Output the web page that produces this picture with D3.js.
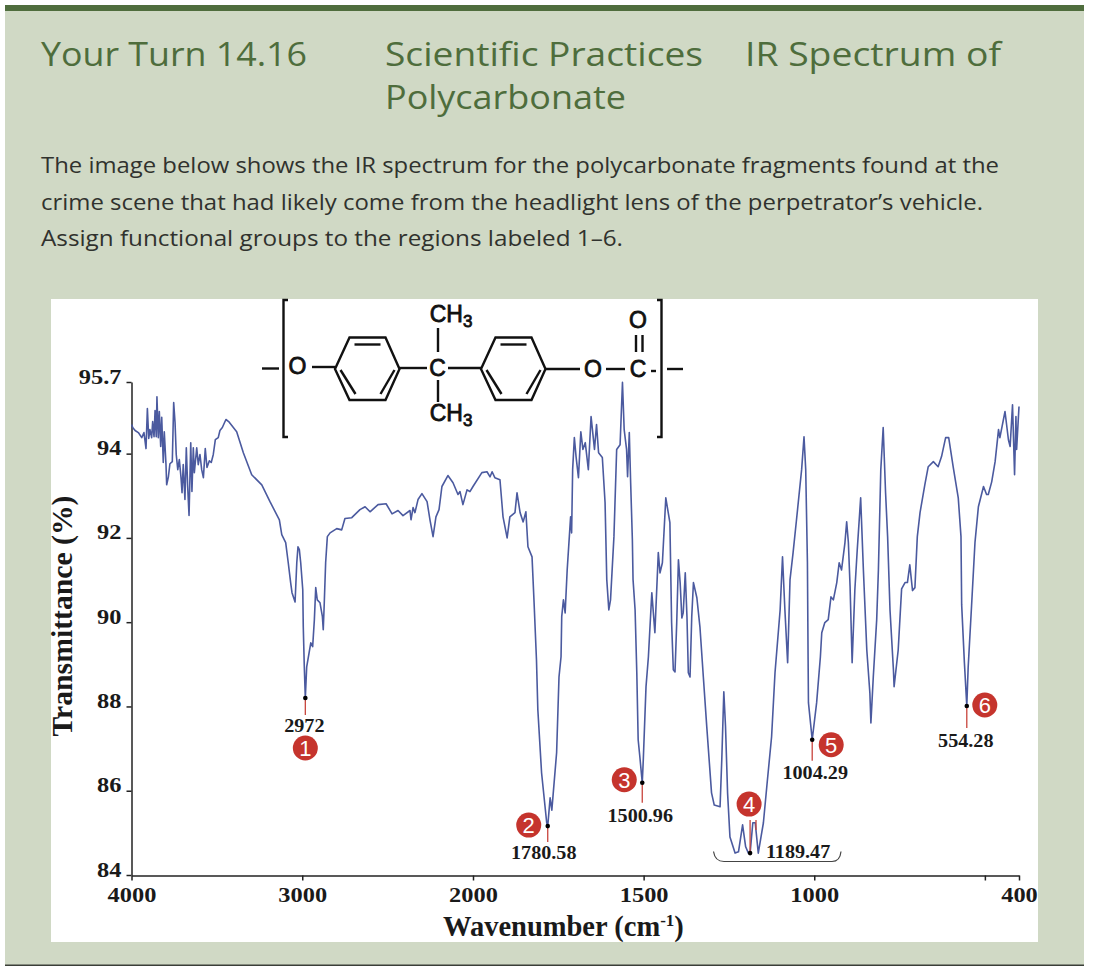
<!DOCTYPE html>
<html lang="en">
<head>
    <meta charset="UTF-8">
    <title>IR Spectrum of Polycarbonate</title>
    <script src="https://d3js.org/d3.v7.min.js"></script>
    <style>
        body { margin: 0; background: #fff; }
        svg { display: block; }
        .head { font-family: "Open Sans", sans-serif; font-size: 33px; fill: #4e6d3c; }
        .body { font-family: "Open Sans", sans-serif; font-size: 21.5px; fill: #30322e; }
        .serif { font-family: "Liberation Serif", serif; font-weight: 700; fill: #1a1a1a; }
        .chem { stroke: #111; stroke-width: 2.4; fill: none; }
        .atom { font-family: "Liberation Sans", sans-serif; font-size: 23px; fill: #111; stroke: #111; stroke-width: 0.8; text-anchor: middle; }
        .tick line, .domain { stroke: #222; stroke-width: 1.5; }
    </style>
</head>
<body>
    <svg width="1096" height="970"></svg>
    <script>
        // values
        const wavenumbers = [
            3999, 3993, 3979, 3960, 3940, 3927, 3915, 3907, 3899, 3892,
            3882, 3876, 3868, 3862, 3855, 3851, 3843, 3837, 3829, 3823,
            3814, 3808, 3798, 3794, 3784, 3775, 3761, 3753, 3745, 3738,
            3729, 3720, 3710, 3704, 3697, 3687, 3679, 3671, 3663, 3653,
            3646, 3638, 3632, 3618, 3609, 3599, 3589, 3579, 3568, 3558,
            3544, 3533, 3521, 3509, 3492, 3482, 3468, 3447, 3431, 3384,
            3345, 3296, 3237, 3189, 3134, 3120, 3097, 3082, 3068, 3060,
            3042, 3032, 3025, 3017, 3009, 2997, 2994, 2988, 2982, 2974,
            2960, 2950, 2939, 2929, 2921, 2912, 2896, 2882, 2877, 2871,
            2863, 2853, 2837, 2798, 2769, 2750, 2710, 2662, 2632, 2603,
            2556, 2509, 2474, 2439, 2410, 2369, 2363, 2351, 2340, 2322,
            2299, 2269, 2252, 2234, 2217, 2199, 2182, 2147, 2117, 2088,
            2076, 2059, 2035, 2018, 2000, 1974, 1959, 1950, 1944, 1936,
            1921, 1912, 1900, 1892, 1877, 1871, 1862, 1853, 1845, 1839,
            1827, 1821, 1814, 1810, 1799, 1784, 1781, 1774, 1769, 1755,
            1748, 1742, 1740, 1735, 1730, 1724, 1714, 1711, 1708, 1703,
            1698, 1691, 1684, 1678, 1671, 1662, 1654, 1644, 1638, 1632,
            1621, 1613, 1608, 1602, 1597, 1587, 1579, 1569, 1562, 1557,
            1550, 1547, 1542, 1538, 1533, 1531, 1525, 1520, 1516, 1511,
            1504, 1501, 1493, 1486, 1476, 1467, 1457, 1452, 1445, 1435,
            1423, 1418, 1413, 1408, 1403, 1398, 1393, 1388, 1384, 1378,
            1373, 1369, 1364, 1359, 1354, 1344, 1335, 1325, 1315, 1301,
            1293, 1276, 1271, 1265, 1260, 1254, 1247, 1232, 1222, 1210,
            1201, 1193, 1188, 1180, 1173, 1164, 1149, 1138, 1125, 1115,
            1100, 1093, 1086, 1078, 1071, 1062, 1052, 1037, 1030, 1025,
            1020, 1018, 1017, 1006, 993, 982, 978, 969, 959, 951,
            944, 934, 927, 920, 910, 905, 900, 895, 889, 881,
            874, 864, 856, 846, 837, 834, 827, 817, 812, 805,
            798, 791, 785, 778, 768, 766, 754, 744, 734, 727,
            720, 712, 705, 698, 690, 676, 666, 651, 637, 627,
            615, 606, 593, 578, 570, 568, 560, 553, 549, 539,
            529, 519, 504, 495, 490, 480, 470, 460, 456, 441,
            431, 426, 419, 413, 409, 407, 400
        ];
        const transmittance = [
            94.69, 94.62, 94.55, 94.50, 94.38, 94.50, 94.12, 95.07, 94.36, 94.57,
            94.38, 94.76, 94.40, 95.02, 94.40, 95.35, 94.38, 95.00, 94.17, 94.86,
            93.79, 94.52, 93.74, 93.26, 93.45, 93.76, 93.81, 95.21, 94.74, 93.98,
            93.62, 93.86, 93.43, 93.07, 93.74, 92.91, 94.14, 93.22, 92.53, 94.26,
            93.10, 94.14, 93.55, 94.14, 93.74, 93.98, 93.62, 93.43, 94.12, 93.67,
            93.83, 93.79, 93.98, 94.33, 94.38, 94.55, 94.62, 94.81, 94.76, 94.52,
            94.02, 93.50, 93.26, 92.86, 92.43, 92.08, 91.89, 91.41, 90.94, 90.70,
            90.48, 91.41, 91.79, 91.72, 91.41, 90.77, 89.89, 88.94, 88.20, 88.94,
            89.27, 89.51, 89.42, 90.06, 90.82, 90.53, 90.46, 90.13, 89.82, 90.46,
            91.41, 92.03, 92.12, 92.22, 92.19, 92.46, 92.48, 92.67, 92.74, 92.62,
            92.79, 92.81, 92.57, 92.65, 92.53, 92.65, 92.43, 92.72, 92.60, 92.91,
            93.05, 92.86, 92.43, 92.03, 92.50, 92.67, 93.22, 93.48, 93.31, 93.03,
            93.10, 92.79, 93.14, 93.10, 93.22, 93.55, 93.57, 93.45, 93.57, 93.43,
            93.38, 92.50, 92.00, 92.50, 92.60, 93.07, 92.60, 92.38, 92.62, 91.79,
            91.55, 90.46, 89.11, 87.92, 86.42, 85.24, 85.16, 85.83, 85.54, 86.90,
            88.70, 89.18, 90.13, 90.53, 90.22, 91.24, 92.50, 92.12, 93.62, 94.38,
            93.93, 93.43, 94.52, 94.10, 94.26, 93.62, 94.88, 94.10, 94.69, 94.02,
            93.91, 92.84, 91.01, 90.29, 90.53, 92.03, 94.10, 94.21, 95.69, 94.57,
            94.10, 93.45, 94.50, 93.31, 91.96, 91.01, 90.29, 88.80, 87.21, 86.80,
            86.19, 86.73, 88.47, 89.18, 90.70, 89.75, 91.65, 91.17, 91.41, 92.95,
            92.36, 89.99, 88.87, 88.82, 89.99, 91.48, 90.94, 90.10, 90.22, 91.17,
            90.13, 88.80, 88.70, 90.13, 90.94, 90.58, 89.89, 88.70, 87.52, 85.95,
            85.66, 85.62, 86.73, 88.35, 87.52, 85.95, 84.90, 84.52, 84.55, 85.19,
            84.67, 84.52, 84.52, 85.24, 85.24, 84.52, 85.24, 86.19, 87.28, 88.80,
            90.29, 91.55, 90.29, 89.04, 91.01, 91.65, 92.43, 93.62, 94.40, 93.62,
            91.41, 89.11, 88.09, 87.21, 88.09, 89.18, 89.75, 89.99, 90.06, 90.60,
            90.53, 90.94, 91.41, 91.24, 91.89, 92.38, 91.89, 90.84, 89.04, 90.77,
            91.72, 92.95, 91.24, 89.34, 88.32, 87.61, 88.70, 90.06, 91.24, 93.62,
            94.62, 93.07, 92.03, 90.29, 88.87, 88.47, 89.34, 90.79, 90.94, 90.94,
            91.36, 90.75, 90.82, 92.03, 92.60, 93.26, 93.69, 93.81, 93.69, 93.93,
            94.38, 94.38, 93.69, 92.95, 92.03, 90.41, 89.04, 88.01, 88.92, 90.39,
            91.89, 92.74, 93.22, 93.03, 93.03, 93.33, 93.81, 94.57, 94.38, 95.00,
            94.33, 94.17, 95.16, 93.50, 94.88, 94.10, 95.12
        ];

        const yTicks = [84, 86, 88, 90, 92, 94, 95.7];
        const xTicks = [4000, 3000, 2000, 1500, 1000, 500, 400];
        const xTickLabels = ["4000", "3000", "2000", "1500", "1000", "", "400"];

        const peakWavenumbers = [2982, 1781, 1504, 1188, 1006, 553];
        const peakTransmittance = [88.20, 85.16, 86.19, 84.52, 87.21, 88.01];
        const peakLabels = ["2972", "1780.58", "1500.96", "1189.47", "1004.29", "554.28"];
        const peakNumbers = ["1", "2", "3", "4", "5", "6"];

        // callout placement relative to each marker: red stem end, label, numbered badge
        const callouts = [
            { stem: 17, lx: -1, ly: 34, bx: 0, by: 50 },
            { stem: 16, lx: -4, ly: 33, bx: -19, by: -1 },
            { stem: 20, lx: -2, ly: 39, bx: -18, by: -3 },
            { stem: -33, lx: 48, ly: 5, bx: -1, by: -49 },
            { stem: 21, lx: 3, ly: 39, bx: 19, by: 5 },
            { stem: 22, lx: -1, ly: 41, bx: 18, by: -1 }
        ];

        const svg = d3.select("svg");

        function stretch(sel, factor) {
            sel.each(function () {
                d3.select(this).attr("textLength", this.getComputedTextLength() * factor)
                    .attr("lengthAdjust", "spacingAndGlyphs");
            });
        }

        // page panel
        svg.append("rect").attr("x", 5).attr("y", 5).attr("width", 1079).attr("height", 960).attr("fill", "#d0d9c5");
        svg.append("rect").attr("x", 5).attr("y", 5).attr("width", 1079).attr("height", 6).attr("fill", "#4f6d3d");
        svg.append("rect").attr("x", 5).attr("y", 964.5).attr("width", 1079).attr("height", 1.5).attr("fill", "#3a3f38");
        svg.append("rect").attr("x", 51).attr("y", 299).attr("width", 987).attr("height", 643).attr("fill", "#fff");

        const heading = [
            { text: "Your Turn 14.16", x: 41, y: 66, w: 266 },
            { text: "Scientific Practices", x: 385, y: 66, w: 318 },
            { text: "IR Spectrum of", x: 745, y: 66, w: 256 },
            { text: "Polycarbonate", x: 385, y: 109, w: 241 }
        ];
        svg.selectAll(".head").data(heading).enter().append("text")
            .attr("class", "head")
            .attr("x", d => d.x).attr("y", d => d.y)
            .attr("textLength", d => d.w)
            .attr("lengthAdjust", "spacingAndGlyphs")
            .text(d => d.text);

        const bodyLines = [
            { text: "The image below shows the IR spectrum for the polycarbonate fragments found at the", y: 173, w: 958 },
            { text: "crime scene that had likely come from the headlight lens of the perpetrator\u2019s vehicle.", y: 210, w: 942 },
            { text: "Assign functional groups to the regions labeled 1\u20136.", y: 246, w: 582 }
        ];
        svg.selectAll(".body").data(bodyLines).enter().append("text")
            .attr("class", "body")
            .attr("x", 41).attr("y", d => d.y)
            .attr("textLength", d => d.w)
            .attr("lengthAdjust", "spacingAndGlyphs")
            .text(d => d.text);

        // broken wavenumber axis: the scale doubles below 2000
        const x = d3.scaleLinear().domain([4000, 2000, 400]).range([131.5, 473, 1019]);
        const y = d3.scaleLinear().domain([84, 95.7]).range([875, 382]);

        const yAxis = svg.append("g").attr("transform", "translate(131.5,0)")
            .call(d3.axisLeft(y).tickValues(yTicks).tickSize(5).tickSizeOuter(0).tickFormat(d => String(d)));
        yAxis.selectAll("text").attr("class", "serif").attr("font-size", 20).attr("font-family", null)
            .attr("x", -10).attr("dy", 1).call(stretch, 1.22);

        const xAxis = svg.append("g").attr("transform", "translate(0,875.5)")
            .call(d3.axisBottom(x).tickValues(xTicks).tickSize(5).tickSizeOuter(0).tickFormat((d, i) => xTickLabels[i]));
        xAxis.selectAll("text").attr("class", "serif").attr("font-size", 20).attr("font-family", null)
            .attr("y", 26.5).attr("dy", 0).call(stretch, 1.22);

        svg.append("text").attr("class", "serif")
            .attr("transform", "translate(72,616) rotate(-90)")
            .attr("text-anchor", "middle").attr("font-size", 30)
            .attr("textLength", 241).attr("lengthAdjust", "spacingAndGlyphs")
            .text("Transmittance (%)");

        const xLabel = svg.append("text").attr("class", "serif")
            .attr("x", 443).attr("y", 936).attr("font-size", 28.5);
        xLabel.append("tspan").text("Wavenumber (cm");
        xLabel.append("tspan").attr("dy", -10).attr("font-size", 17).text("-1");
        xLabel.append("tspan").attr("dy", 10).text(")");

        // structure of the repeat unit
        const chem = svg.append("g").attr("class", "chem");
        const seg = (a, b, c, d) => chem.append("line").attr("x1", a).attr("y1", b).attr("x2", c).attr("y2", d);
        const ring = cx => {
            const pts = [[-34.5, 0], [-20, -31.5], [16, -31.5], [30, 0], [16, 31], [-20, 31]]
                .map(p => [cx + p[0], 369 + p[1]]);
            chem.append("path").attr("d", d3.line()(pts) + "Z");
            seg(cx - 15, 344.5, cx + 11, 344.5);
            seg(cx - 29, 370, cx - 14, 394);
            seg(cx + 25, 370, cx + 11, 394);
        };
        ring(369.5);
        ring(515.5);
        chem.append("path").attr("d", "M288,300H283.5V437H288");
        chem.append("path").attr("d", "M657,300H661.5V437H657");
        seg(262, 368.5, 279, 368.5);
        seg(312, 367, 335, 367);
        seg(399, 368, 427, 368);
        seg(448, 368, 481, 368);
        seg(546, 369, 580, 369);
        seg(606, 369, 625, 369);
        seg(651, 371, 656, 371);
        seg(667, 369, 683, 369);
        seg(438, 328, 438, 352);
        seg(438, 380, 438, 402);
        seg(636, 335, 636, 352);
        seg(642.5, 335, 642.5, 352);
        const atoms = [["O", 297.5, 374], ["C", 437.5, 376], ["O", 593, 377], ["C", 638, 377], ["O", 638, 328]];
        svg.selectAll(".atom").data(atoms).enter().append("text")
            .attr("class", "atom")
            .attr("x", d => d[1]).attr("y", d => d[2])
            .text(d => d[0]);
        [[451, 322], [451, 421]].forEach(p => {
            const t = svg.append("text").attr("class", "atom").attr("x", p[0]).attr("y", p[1]);
            t.append("tspan").text("CH");
            t.append("tspan").attr("dy", 5).attr("font-size", 17).text("3");
        });

        // spectrum
        const line = d3.line().x(d => x(d[0])).y(d => y(d[1]));
        svg.append("path")
            .datum(d3.zip(wavenumbers, transmittance))
            .attr("fill", "none")
            .attr("stroke", "#4b5a9f")
            .attr("stroke-width", 1.6)
            .attr("stroke-linejoin", "round")
            .attr("d", line);

        // callouts
        const peaks = svg.selectAll(".peak").data(peakLabels).enter().append("g")
            .attr("class", "peak")
            .attr("transform", (d, i) => `translate(${x(peakWavenumbers[i])},${y(peakTransmittance[i])})`);
        peaks.append("line")
            .attr("y2", (d, i) => callouts[i].stem)
            .attr("stroke", "#c8443c").attr("stroke-width", 1.3);
        peaks.append("circle").attr("r", 2.3).attr("fill", "#000");
        peaks.append("text").attr("class", "serif")
            .attr("x", (d, i) => callouts[i].lx).attr("y", (d, i) => callouts[i].ly)
            .attr("text-anchor", "middle").attr("font-size", 18)
            .text(d => d).call(stretch, 1.12);
        peaks.append("circle")
            .attr("cx", (d, i) => callouts[i].bx).attr("cy", (d, i) => callouts[i].by)
            .attr("r", 12.5).attr("fill", "#c5342d");
        peaks.append("text")
            .attr("x", (d, i) => callouts[i].bx).attr("y", (d, i) => callouts[i].by + 8)
            .attr("text-anchor", "middle")
            .attr("font-family", "Liberation Sans, sans-serif").attr("font-size", 22)
            .attr("fill", "#fff")
            .text((d, i) => peakNumbers[i]);

        // second stem and brace under region 4
        svg.append("line").attr("x1", 756).attr("x2", 756).attr("y1", 820).attr("y2", 830)
            .attr("stroke", "#c8443c").attr("stroke-width", 1.3);
        svg.append("path")
            .attr("d", "M713.5,851.5Q715,861.5 724,861.5H832Q840,861.5 841,851.5")
            .attr("fill", "none").attr("stroke", "#444").attr("stroke-width", 1.2);
    </script>
</body>
</html>
